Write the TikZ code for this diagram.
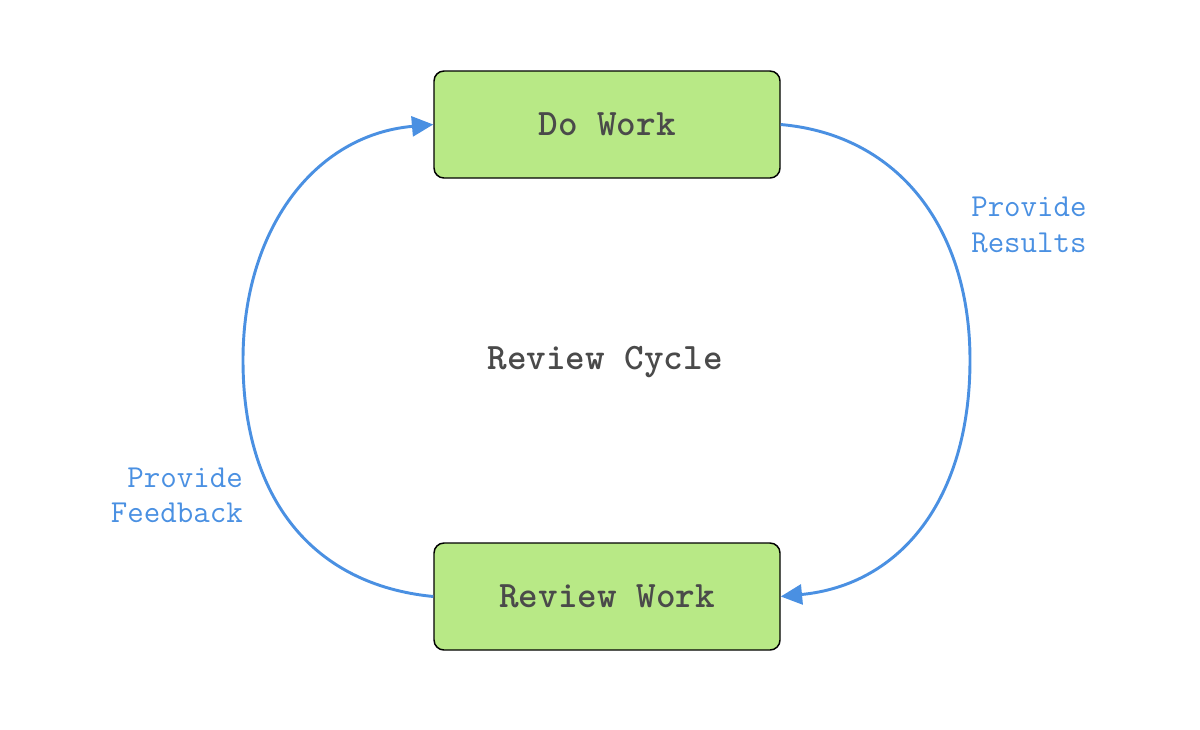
\documentclass[tikz,border=0pt]{standalone}
\usetikzlibrary{arrows.meta}
\definecolor{boxgreen}{HTML}{B8E986}
\definecolor{txtgray}{HTML}{4A4A4A}
\definecolor{flowblue}{HTML}{4A90E2}
\tikzset{
  stepbox/.style={draw=black, line width=1.1pt, fill=boxgreen, rounded corners=7.5pt,
    minimum width=259.5pt, minimum height=80.25pt, text=txtgray,
    font=\ttfamily\bfseries\fontsize{28}{32}\selectfont},
  flow/.style={draw=flowblue, line width=2.2pt, -{Triangle[length=16pt,width=15pt]}},
  lbl/.style={text=flowblue, inner sep=0pt, font=\ttfamily\fontsize{24}{26.5}\selectfont},
  title/.style={text=txtgray, font=\ttfamily\bfseries\fontsize{28}{32}\selectfont}
}
\begin{document}
\begin{tikzpicture}[x=0.75pt,y=-0.75pt]
\useasboundingbox (0,0) rectangle (1200,729);
\node[stepbox] (do) at (607,124.5) {Do Work};
\node[stepbox] (rev) at (607,596.5) {Review Work};
\node[title] (cyc) at (605,362) {Review Cycle};
\draw[flow] (do.east) .. controls (900,135) and (970,230) .. (970,360)
  .. controls (970,500) and (900,585) .. (rev.east);
\draw[flow] (rev.west) .. controls (314,585) and (243,500) .. (243,360)
  .. controls (243,230) and (314,135) .. (do.west);
\node[lbl, anchor=west, align=left] (res) at (971,225) {Provide\\Results};
\node[lbl, anchor=east, align=right] (fb) at (243,495) {Provide\\Feedback};
\end{tikzpicture}
\end{document}
